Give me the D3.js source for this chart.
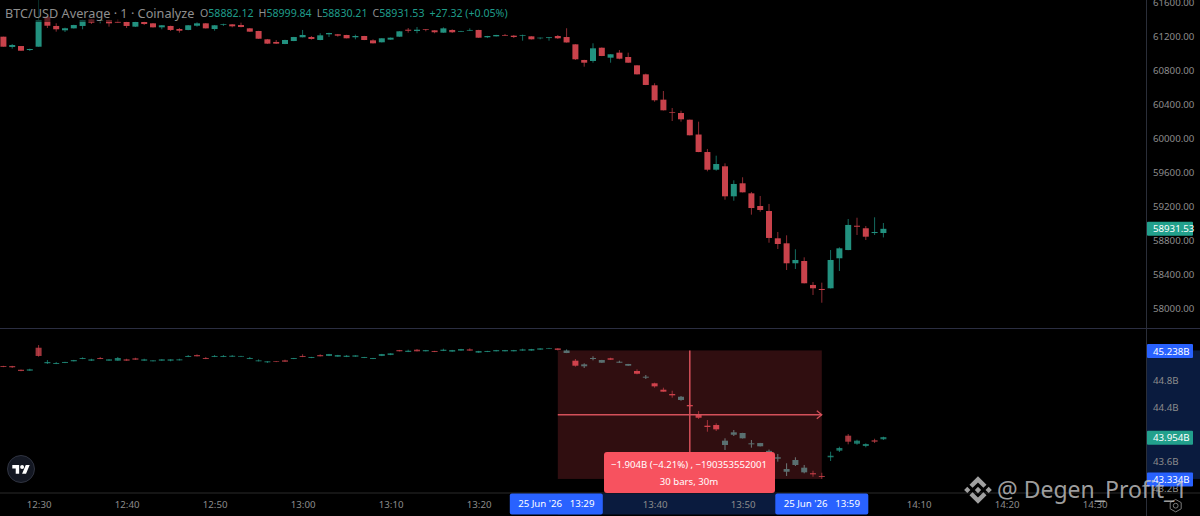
<!DOCTYPE html>
<html lang="en">
<head>
<meta charset="UTF-8">
<title>BTC/USD Average</title>
<script src="https://d3js.org/d3.v7.min.js"></script>
<style>
	html, body { margin:0; padding:0; background:#000; overflow:hidden; }
	svg { display:block; }
	text { font-family:"Noto Sans", "Open Sans", sans-serif; }
	.axisText text { fill:#8c8c8c; font-size:9.7px; }
</style>
</head>
<body>
<div id="chart"></div>
<script>
	// BTC/USD candles, 1 minute bars, first bar is 12:26
	var priceOpen = [
		61192,61071,61082,61035,61074,61427,61318,61267,61290,61318,
		61396,61377,61388,61368,61365,61310,61365,61349,61302,61318,
		61282,61271,61321,61349,61282,61333,61337,61329,61290,61259,
		61161,61130,61106,61141,61185,61188,61153,61220,61220,61212,
		61185,61200,61149,61126,61157,61192,61274,61259,61279,61267,
		61239,61271,61251,61263,61271,61185,61196,61212,61204,61200,
		61196,61173,61176,61200,61188,61102,60918,60906,61062,60945,
		61004,60953,60855,60749,60620,60451,60306,60294,60215,60041,
		59835,59627,59667,59314,59467,59349,59200,59141,58820,58761,
		58526,58553,58271,58224,58232,58585,58682,58968,58938,58882,
		58882.12];
	var priceHigh = [
		61192,61106,61082,61051,61640,61430,61350,61298,61332,61392,
		61400,61396,61392,61396,61369,61369,61369,61353,61329,61321,
		61294,61329,61361,61353,61329,61345,61341,61357,61294,61261,
		61165,61153,61156,61190,61271,61200,61232,61239,61224,61214,
		61216,61202,61161,61175,61182,61257,61294,61306,61282,61270,
		61302,61279,61261,61290,61273,61202,61214,61224,61212,61216,
		61198,61182,61187,61212,61291,61104,60920,61114,61066,60987,
		61035,61004,60857,60757,60644,60553,60353,60321,60217,60192,
		59871,59792,59702,59502,59538,59365,59318,59224,58894,58855,
		58691,58596,58306,58298,58682,58714,59047,59062,58965,59067,
		58999.84];
	var priceLow = [
		61074,61051,61027,61024,61074,61294,61251,61247,61288,61279,
		61341,61349,61310,61357,61294,61306,61329,61300,61279,61259,
		61239,61268,61310,61288,61262,61318,61302,61302,61249,61166,
		61107,61106,61104,61139,61183,61157,61150,61188,61192,61172,
		61161,61151,61112,61124,61155,61190,61239,61232,61255,61232,
		61237,61235,61249,61261,61178,61176,61194,61202,61176,61145,
		61159,61161,61145,61165,61122,60918,60839,60886,60963,60886,
		60926,60884,60747,60622,60427,60324,60200,60192,60030,59833,
		59608,59615,59274,59262,59359,59098,59133,58768,58694,58447,
		58459,58289,58153,58062,58230,58435,58680,58859,58800,58859,
		58830.21];
	var priceClose = [
		61074,61094,61027,61047,61388,61321,61279,61291,61329,61388,
		61357,61388,61349,61357,61318,61365,61341,61302,61326,61271,
		61262,61326,61349,61290,61326,61341,61314,61306,61251,61168,
		61110,61110,61153,61188,61212,61165,61208,61235,61204,61173,
		61200,61153,61114,61173,61180,61255,61262,61274,61271,61244,
		61290,61244,61259,61271,61180,61200,61212,61204,61188,61208,
		61161,61180,61185,61173,61124,60926,60886,61055,60965,60985,
		60933,60886,60749,60624,60444,60326,60298,60220,60032,59835,
		59627,59694,59314,59459,59361,59176,59153,58824,58753,58526,
		58565,58291,58232,58212,58565,58702,58977,58956,58839,58894,
		58931.53];

	// lower pane, values in billions
	var lowerOpen = [
		45.007,45.007,44.952,44.938,45.278,45.048,45.037,45.052,45.077,45.111,
		45.086,45.126,45.086,45.086,45.106,45.121,45.086,45.077,45.086,45.086,
		45.091,45.141,45.170,45.126,45.141,45.141,45.144,45.145,45.111,45.077,
		45.062,45.077,45.091,45.111,45.156,45.126,45.170,45.156,45.145,45.141,
		45.145,45.126,45.111,45.156,45.170,45.244,45.215,45.249,45.225,45.230,
		45.230,45.220,45.235,45.254,45.205,45.215,45.225,45.225,45.225,45.235,
		45.235,45.249,45.264,45.269,45.200,45.086,45.003,45.111,45.056,45.121,
		45.056,45.012,44.933,44.834,44.751,44.656,44.592,44.504,44.430,44.296,
		44.123,44.133,43.837,43.989,43.936,43.847,43.818,43.720,43.634,43.441,
		43.541,43.432,43.418,43.378,43.655,43.753,43.975,43.856,43.822,43.907,
		43.922];
	var lowerHigh = [
		45.010,45.010,44.955,44.967,45.318,45.096,45.067,45.070,45.098,45.136,
		45.115,45.141,45.109,45.141,45.115,45.130,45.115,45.093,45.109,45.109,
		45.115,45.170,45.180,45.141,45.170,45.170,45.170,45.158,45.141,45.106,
		45.080,45.079,45.101,45.128,45.181,45.143,45.181,45.187,45.172,45.170,
		45.167,45.143,45.128,45.187,45.197,45.246,45.249,45.259,45.246,45.232,
		45.264,45.246,45.261,45.269,45.232,45.232,45.246,45.246,45.246,45.264,
		45.261,45.271,45.276,45.271,45.252,45.111,45.047,45.151,45.098,45.130,
		45.086,45.039,44.958,44.874,44.760,44.686,44.641,44.563,44.455,44.340,
		44.207,44.158,43.936,44.059,44.017,43.911,43.868,43.770,43.704,43.566,
		43.655,43.541,43.456,43.426,43.738,43.812,44.000,43.915,43.862,43.930,
		43.960];
	var lowerLow = [
		44.990,44.978,44.930,44.935,45.145,45.037,45.035,45.050,45.075,45.109,
		45.082,45.109,45.084,45.084,45.084,45.099,45.084,45.075,45.084,45.077,
		45.089,45.139,45.149,45.109,45.139,45.139,45.142,45.143,45.109,45.075,
		45.052,45.065,45.069,45.109,45.139,45.124,45.149,45.154,45.143,45.139,
		45.143,45.124,45.109,45.154,45.168,45.223,45.213,45.223,45.223,45.213,
		45.228,45.218,45.233,45.233,45.203,45.213,45.223,45.223,45.223,45.233,
		45.233,45.247,45.262,45.238,45.198,44.997,44.978,45.091,45.054,45.099,
		45.054,45.010,44.884,44.815,44.686,44.625,44.538,44.493,44.389,44.222,
		44.034,44.044,43.763,43.970,43.934,43.797,43.816,43.700,43.590,43.378,
		43.526,43.418,43.367,43.334,43.600,43.733,43.847,43.841,43.803,43.866,
		43.911];
	var lowerClose = [
		44.993,44.988,44.933,44.958,45.156,45.067,45.052,45.067,45.096,45.126,
		45.106,45.111,45.106,45.126,45.086,45.101,45.106,45.091,45.106,45.106,
		45.106,45.156,45.151,45.111,45.156,45.156,45.159,45.156,45.126,45.091,
		45.077,45.067,45.071,45.126,45.141,45.141,45.151,45.185,45.170,45.160,
		45.165,45.141,45.126,45.185,45.195,45.225,45.234,45.225,45.244,45.215,
		45.249,45.244,45.259,45.235,45.230,45.230,45.244,45.244,45.244,45.254,
		45.259,45.269,45.274,45.244,45.237,45.012,45.032,45.126,45.096,45.101,
		45.071,45.037,44.893,44.849,44.706,44.627,44.573,44.552,44.410,44.241,
		44.104,44.069,43.901,44.025,44.015,43.862,43.866,43.750,43.655,43.481,
		43.615,43.501,43.403,43.363,43.678,43.793,43.886,43.901,43.852,43.886,
		43.954];

	var firstBar = Date.UTC(2026, 5, 25, 12, 26);
	var priceTicks = [61600,61200,60800,60400,60000,59600,59200,58800,58400,58000];
	var lowerTicks = [44.8,44.4,44.0,43.6,43.2];
	var timeTicks = ["12:30","12:40","12:50","13:00","13:10","13:20","13:30","13:40","13:50","14:00","14:10","14:20","14:30"];

	var measureStart = {time:"13:29", value:45.238};
	var measureEnd = {time:"13:59", value:43.334};
	var lastPrice = 58931.53;
	var lastLower = 43.954;

	function clock(s) {
		var p = s.split(":");
		return new Date(Date.UTC(2026, 5, 25, +p[0], +p[1]));
	}

	var width = 1200, height = 516;
	var axisX = 1146.5, bottomY = 493;

	var x = d3.scaleUtc().domain([clock("12:30"), clock("14:30")]).range([38.6, 1094.6]);
	var yPrice = d3.scaleLinear().domain([61600, 58000]).range([2, 308]);
	var yLower = d3.scaleLinear().domain([44.8, 43.6]).range([380, 461]);

	var svg = d3.select("#chart").append("svg").attr("width", width).attr("height", height);
	svg.append("rect").attr("width", width).attr("height", height).attr("fill", "#000");

	var up = "#22917f", down = "#c9424b", upWick = "#146b5f", downWick = "#8c2c33";
	// green bars under the measure box come out grey in the screenshot
	var upMuted = "#347a78", upWickMuted = "#4e8482";
	var bodyW = 6;

	function bars(open, high, low, close, y, parent, bodyOpacity, muteFrom, muteTo) {
		var data = d3.range(open.length).map(function(i) {
			return {t:new Date(firstBar + i*60000), o:open[i], h:high[i], l:low[i], c:close[i]};
		});
		function muted(d) { return muteFrom && d.t > muteFrom && d.t < muteTo; }
		var g = parent.selectAll("g").data(data).enter().append("g");
		g.append("line")
			.attr("x1", function(d) { return x(d.t); })
			.attr("x2", function(d) { return x(d.t); })
			.attr("y1", function(d) { return y(d.h); })
			.attr("y2", function(d) { return y(d.l); })
			.attr("stroke", function(d) {
				if (d.c >= d.o) return muted(d) ? upWickMuted : upWick;
				return downWick;
			})
			.attr("stroke-width", 1);
		g.append("rect")
			.attr("x", function(d) { return x(d.t) - bodyW/2; })
			.attr("width", bodyW)
			.attr("y", function(d) { return y(Math.max(d.o, d.c)); })
			.attr("height", function(d) { return Math.abs(y(d.o) - y(d.c)); })
			.attr("fill", function(d) {
				if (d.c >= d.o) return muted(d) ? upMuted : up;
				return down;
			})
			.attr("fill-opacity", function(d) { return muted(d) ? 1 : bodyOpacity; });
	}

	bars(priceOpen, priceHigh, priceLow, priceClose, yPrice, svg.append("g"), 1);
	bars(lowerOpen, lowerHigh, lowerLow, lowerClose, yLower, svg.append("g"), 0.8, clock(measureStart.time), clock(measureEnd.time));

	// legend strip darkens the bars behind it
	svg.append("rect").attr("x", 0).attr("y", 0).attr("width", 506).attr("height", 22).attr("fill", "rgba(0,0,0,0.55)");

	var legend = svg.append("text").attr("x", 5).attr("y", 17.5).attr("font-size", 12.7).attr("fill", "#8f8f8f");
	legend.append("tspan").text("BTC/USD Average · 1 · Coinalyze");
	var legendBits = [["O","58882.12"],["H","58999.84"],["L","58830.21"],["C","58931.53"]];
	var legend2 = svg.append("text").attr("x", 200).attr("y", 17).attr("font-size", 10.6).attr("fill", "#8f8f8f");
	legendBits.forEach(function(b, i) {
		legend2.append("tspan").attr("dx", i ? 5 : 0).text(b[0]);
		legend2.append("tspan").attr("fill", "#1f9c8a").text(b[1]);
	});
	legend2.append("tspan").attr("dx", 5).attr("fill", "#1f9c8a").text("+27.32 (+0.05%)");

	// pane separators
	svg.append("line").attr("x1", 0).attr("x2", width).attr("y1", 328.5).attr("y2", 328.5).attr("stroke", "#2b2e42");
	svg.append("line").attr("x1", 0).attr("x2", width).attr("y1", bottomY).attr("y2", bottomY).attr("stroke", "#2a2a2a");
	svg.append("line").attr("x1", axisX).attr("x2", axisX).attr("y1", 0).attr("y2", height).attr("stroke", "#2a2e39");

	// measure tool
	var mx0 = x(clock(measureStart.time)), mx1 = x(clock(measureEnd.time));
	var my0 = yLower(measureStart.value), my1 = yLower(measureEnd.value);
	var midX = (mx0 + mx1)/2, midY = (my0 + my1)/2;
	var toolColor = "#d4505a";

	svg.append("rect").attr("x", mx0).attr("y", my0).attr("width", mx1 - mx0).attr("height", my1 - my0)
		.attr("fill", "rgba(242,70,80,0.2)");
	svg.append("line").attr("x1", midX).attr("x2", midX).attr("y1", my0).attr("y2", my1)
		.attr("stroke", toolColor).attr("stroke-width", 1.5);
	svg.append("line").attr("x1", mx0).attr("x2", mx1).attr("y1", midY).attr("y2", midY)
		.attr("stroke", toolColor).attr("stroke-width", 1.5);
	svg.append("path").attr("d", d3.line()([[mx1-5, midY-4], [mx1, midY], [mx1-5, midY+4]]))
		.attr("fill", "none").attr("stroke", toolColor).attr("stroke-width", 1.2);

	// right axis background for the measured range
	svg.append("rect").attr("x", axisX + .5).attr("y", my0).attr("width", width - axisX).attr("height", my1 - my0).attr("fill", "#0a1b3e");
	// time axis background for the measured range
	svg.append("rect").attr("x", mx0).attr("y", bottomY + .5).attr("width", mx1 - mx0).attr("height", 21).attr("fill", "#0a1b3e");

	// axes
	var priceAxis = d3.axisRight(yPrice).tickValues(priceTicks).tickSize(0).tickPadding(6.5).tickFormat(d3.format(".2f"));
	svg.append("g").attr("class", "axisText").attr("transform", "translate(" + axisX + ",0)").call(priceAxis)
		.call(function(g) { g.select(".domain").remove(); });

	var lowerAxis = d3.axisRight(yLower).tickValues(lowerTicks).tickSize(0).tickPadding(6.5)
		.tickFormat(function(d) { return d.toFixed(1) + "B"; });
	svg.append("g").attr("class", "axisText").attr("transform", "translate(" + axisX + ",0)").call(lowerAxis)
		.call(function(g) { g.select(".domain").remove(); });

	var timeAxis = d3.axisBottom(x).tickValues(timeTicks.map(clock)).tickSize(0).tickPadding(8.5).tickFormat(d3.utcFormat("%H:%M"));
	svg.append("g").attr("class", "axisText").attr("transform", "translate(0," + bottomY + ")").call(timeAxis)
		.call(function(g) { g.select(".domain").remove(); });

	// value labels on the right axis
	function axisLabel(y, txt, color) {
		svg.append("rect").attr("x", axisX + .5).attr("y", y - 7).attr("width", 46).attr("height", 14).attr("rx", 1).attr("fill", color);
		svg.append("text").attr("x", axisX + 6.5).attr("y", y).attr("dy", "0.36em").attr("font-size", 9.7).attr("fill", "#fff").text(txt);
	}
	axisLabel(yPrice(lastPrice), lastPrice.toFixed(2), "#22a08c");
	axisLabel(yLower(lastLower) + .6, lastLower.toFixed(3) + "B", "#22a08c");
	axisLabel(my0 + .6, measureStart.value.toFixed(3) + "B", "#2962ff");
	axisLabel(my1 + .6, measureEnd.value.toFixed(3) + "B", "#2962ff");

	// time labels for the measure ends
	function timeLabel(cx, t) {
		svg.append("rect").attr("x", cx - 46.5).attr("y", bottomY + .5).attr("width", 93).attr("height", 21).attr("rx", 2).attr("fill", "#2962ff");
		svg.append("text").attr("x", cx).attr("y", 507).attr("text-anchor", "middle").attr("font-size", 9.7).attr("fill", "#fff")
			.attr("xml:space", "preserve").text("25 Jun '26   " + t);
	}
	timeLabel(mx0 - 1.5, measureStart.time);
	timeLabel(mx1, measureEnd.time);

	// measure tooltip
	svg.append("rect").attr("x", 604).attr("y", 452).attr("width", 171).attr("height", 41).attr("rx", 3).attr("fill", "#f7525f");
	svg.append("text").attr("x", 689).attr("y", 467.5).attr("text-anchor", "middle").attr("font-size", 9.6).attr("fill", "#fff")
		.text("−1.904B (−4.21%) , −190353552001");
	svg.append("text").attr("x", 689).attr("y", 484.5).attr("text-anchor", "middle").attr("font-size", 9.6).attr("fill", "#fff")
		.text("30 bars, 30m");

	// tradingview logo
	svg.append("circle").attr("cx", 21).attr("cy", 469).attr("r", 13.5).attr("fill", "#131722").attr("stroke", "#2f3340").attr("stroke-width", 1);
	var tv = svg.append("g").attr("transform", "translate(12.3,463) scale(0.49)").attr("fill", "#fff");
	tv.append("path").attr("d", "M14 22H7V11H0V4h14v18zM28 22h-8l7.5-18h8L28 22z");
	tv.append("circle").attr("cx", 20).attr("cy", 8).attr("r", 4);

	// settings icon
	svg.append("path").attr("d", "M1175.7 499.5l5.5 3.1v6.2l-5.5 3.1-5.5-3.1v-6.2z").attr("fill", "none").attr("stroke", "#7a7a7a");
	svg.append("circle").attr("cx", 1175.7).attr("cy", 505.7).attr("r", 2.4).attr("fill", "none").attr("stroke", "#7a7a7a");

	// watermark
	svg.append("path").attr("transform", "translate(964,476) scale(0.222)").attr("fill", "rgba(200,200,200,0.8)")
		.attr("d", "M38.73 53.2L63 28.93l24.28 24.28 14.12-14.12L63 .68 24.6 39.08l14.13 14.12zM.67 63l14.12-14.12L28.92 63 14.8 77.13.67 63zm38.06 9.8L63 97.07l24.28-24.28 14.13 14.12L63 125.32 24.6 86.92l-.02-.02 14.15-14.1zM97.07 63l14.12-14.12L125.32 63 111.2 77.13 97.07 63zM77.33 63L63 48.66 52.4 59.25l-1.22 1.22-2.5 2.5L63 77.33 77.33 63z");
	svg.append("text").attr("x", 997).attr("y", 497.5).attr("font-size", 23).attr("fill", "rgba(200,200,200,0.8)").text("@ Degen_Profit_1");
</script>
</body>
</html>
